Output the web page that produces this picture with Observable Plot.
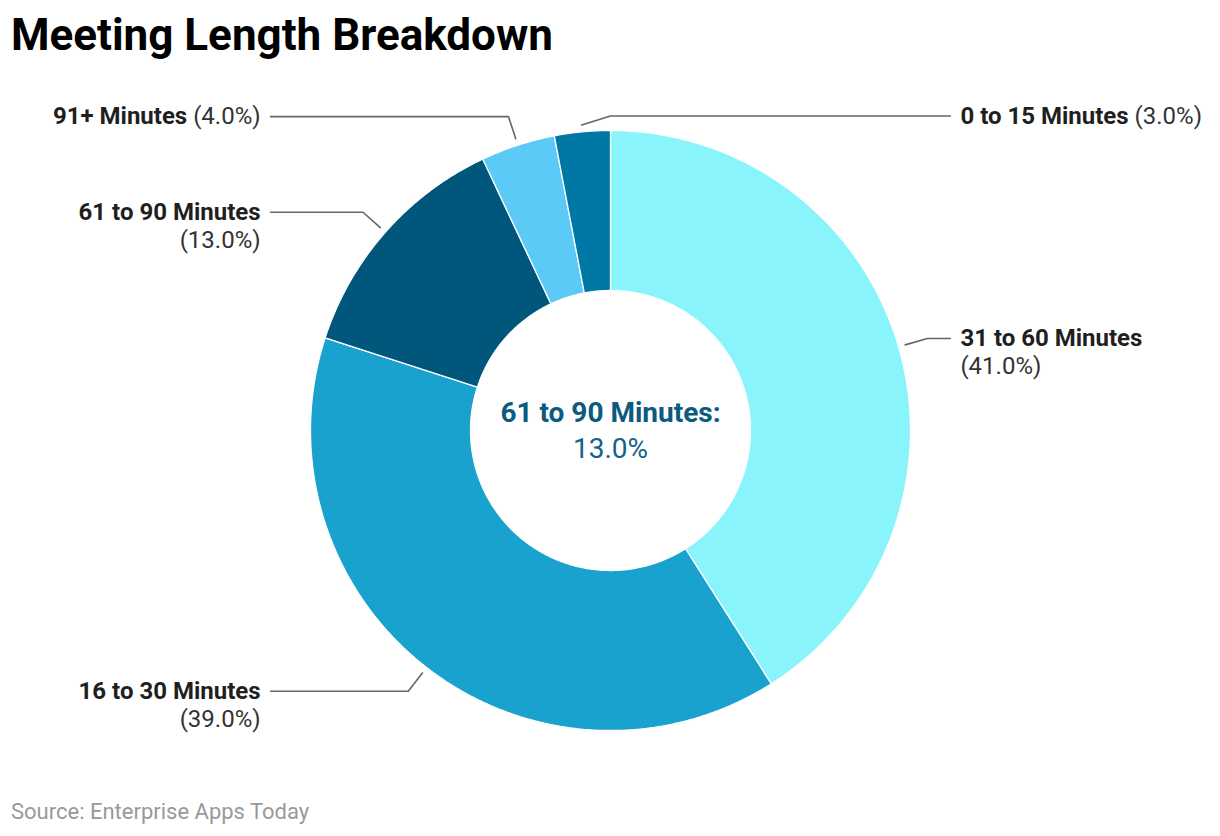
<!DOCTYPE html>
<html>
<head>
<meta charset="utf-8">
<script src="https://cdn.jsdelivr.net/npm/d3@7"></script>
<script src="https://cdn.jsdelivr.net/npm/@observablehq/plot@0.6"></script>
<style>
  html, body { margin: 0; padding: 0; background: #fff; }
  body { width: 1220px; height: 836px; position: relative; overflow: hidden; font-family: Roboto, "Noto Sans", sans-serif; }
  #title { position: absolute; left: 11px; top: 9px; font-size: 44px; font-weight: 700; color: #000; line-height: 52px; white-space: nowrap; }
  #chart { position: absolute; left: 0; top: 70px; }
  #source { position: absolute; left: 11px; top: 798px; font-size: 22px; color: #999; line-height: 28px; white-space: nowrap; }
</style>
</head>
<body>
<div id="title">Meeting Length Breakdown</div>
<div id="chart"></div>
<div id="source">Source: Enterprise Apps Today</div>
<script>
// ---- data ----
const categories = ["31 to 60 Minutes", "16 to 30 Minutes", "61 to 90 Minutes", "91+ Minutes", "0 to 15 Minutes"];
const shares = [41.0, 39.0, 13.0, 4.0, 3.0];
const colors = ["#8AF4FD", "#1AA2CF", "#00567B", "#5BCAF6", "#0078A6"];
const highlighted = "61 to 90 Minutes";
const labelSides = ["right", "left", "left", "left", "right"];

// ---- layout ----
const W = 1220, H = 730;
const R = 300;                 // outer radius in px
const cxPx = 610, cyPx = 360;  // centre within svg
const inner = 140 / R;         // inner radius (unit)
const rStart = 1.023, rElbow = 1.1, lineEnd = 1.133;
const fontLabel = 24;
const lineGap = 28;

const total = d3.sum(shares);
const fmtPct = v => `(${v.toFixed(1)}%)`;

// measure text
const ctx = document.createElement("canvas").getContext("2d");
function textW(s, weight) { ctx.font = `${weight} ${fontLabel}px Roboto`; return ctx.measureText(s).width; }

let acc = 0;
const slices = categories.map((name, i) => {
  const a0 = acc / total * 2 * Math.PI;
  acc += shares[i];
  const a1 = acc / total * 2 * Math.PI;
  return {name, value: shares[i], color: colors[i], a0, a1, mid: (a0 + a1) / 2, side: labelSides[i]};
});

const pol = (a, r) => [r * Math.sin(a), r * Math.cos(a)];

// arc polygons
const arcPts = [];
for (const s of slices) {
  const n = Math.max(4, Math.ceil((s.a1 - s.a0) / (Math.PI / 360)));
  for (let k = 0; k <= n; k++) { const a = s.a0 + (s.a1 - s.a0) * k / n; const [x, y] = pol(a, 1); arcPts.push({name: s.name, x, y}); }
  for (let k = n; k >= 0; k--) { const a = s.a0 + (s.a1 - s.a0) * k / n; const [x, y] = pol(a, inner); arcPts.push({name: s.name, x, y}); }
}

// leader lines & labels
const leaderPts = [];
const labelsBold = [], labelsPct = [];
for (const s of slices) {
  const start = pol(s.mid, rStart);
  let elbow = pol(s.mid, rElbow);
  const natural = Math.sin(s.mid) >= 0 ? "right" : "left";
  if (natural !== s.side) elbow = [0, start[1] + 0.03];
  const sign = s.side === "right" ? 1 : -1;
  const end = [sign * lineEnd, elbow[1]];
  leaderPts.push({name: s.name, x: start[0], y: start[1]}, {name: s.name, x: elbow[0], y: elbow[1]}, {name: s.name, x: end[0], y: end[1]});
  const pct = fmtPct(s.value);
  const wb = textW(s.name, 700), ws = textW(" ", 400), wp = textW(pct, 400);
  const oneLine = wb + ws + wp < 258;
  const anchor = s.side === "right" ? "start" : "end";
  const dx0 = sign * 10;
  if (oneLine) {
    if (s.side === "right") {
      labelsBold.push({x: end[0] + dx0 / R, y: end[1], text: s.name, anchor});
      labelsPct.push({x: end[0] + (dx0 + wb + ws) / R, y: end[1], text: pct, anchor});
    } else {
      labelsPct.push({x: end[0] + dx0 / R, y: end[1], text: pct, anchor});
      labelsBold.push({x: end[0] + (dx0 - wp - ws) / R, y: end[1], text: s.name, anchor});
    }
  } else {
    labelsBold.push({x: end[0] + dx0 / R, y: end[1], text: s.name, anchor});
    labelsPct.push({x: end[0] + dx0 / R, y: end[1] - lineGap / R, text: pct, anchor});
  }
}

const hi = slices.find(s => s.name === highlighted);
const centerData = [{x: 0, y: 0, title: hi.name + ":", value: hi.value.toFixed(1) + "%"}];

const textMarks = [];
for (const anchor of ["start", "end"]) {
  textMarks.push(Plot.text(labelsBold.filter(d => d.anchor === anchor), {x: "x", y: "y", text: "text", fontSize: fontLabel, fontWeight: 700, fill: "#1f1f1f", textAnchor: anchor}));
  textMarks.push(Plot.text(labelsPct.filter(d => d.anchor === anchor), {x: "x", y: "y", text: "text", fontSize: fontLabel, fontWeight: 400, fill: "#333", textAnchor: anchor}));
}

const chart = Plot.plot({
  width: W, height: H,
  margin: 0,
  x: {domain: [-cxPx / R, (W - cxPx) / R], range: [0, W], axis: null},
  y: {domain: [-(H - cyPx) / R, cyPx / R], range: [H, 0], axis: null},
  color: {domain: categories, range: colors},
  style: {fontFamily: "Roboto, 'Noto Sans', sans-serif", background: "transparent", overflow: "visible"},
  marks: [
    Plot.line(arcPts, {x: "x", y: "y", z: "name", fill: "name", stroke: "#fff", strokeWidth: 1.3, curve: "linear-closed", strokeLinejoin: "miter"}),
    Plot.line(leaderPts, {x: "x", y: "y", z: "name", stroke: "#666", strokeWidth: 1.6, curve: "linear"}),
    ...textMarks,
    Plot.text(centerData, {x: "x", y: "y", text: "title", dy: -17, fontSize: 28, fontWeight: 700, fill: "#0b5a80", textAnchor: "middle"}),
    Plot.text(centerData, {x: "x", y: "y", text: "value", dy: 19, fontSize: 28, fontWeight: 400, fill: "#15618a", textAnchor: "middle"})
  ]
});
document.getElementById("chart").appendChild(chart);
</script>
</body>
</html>
